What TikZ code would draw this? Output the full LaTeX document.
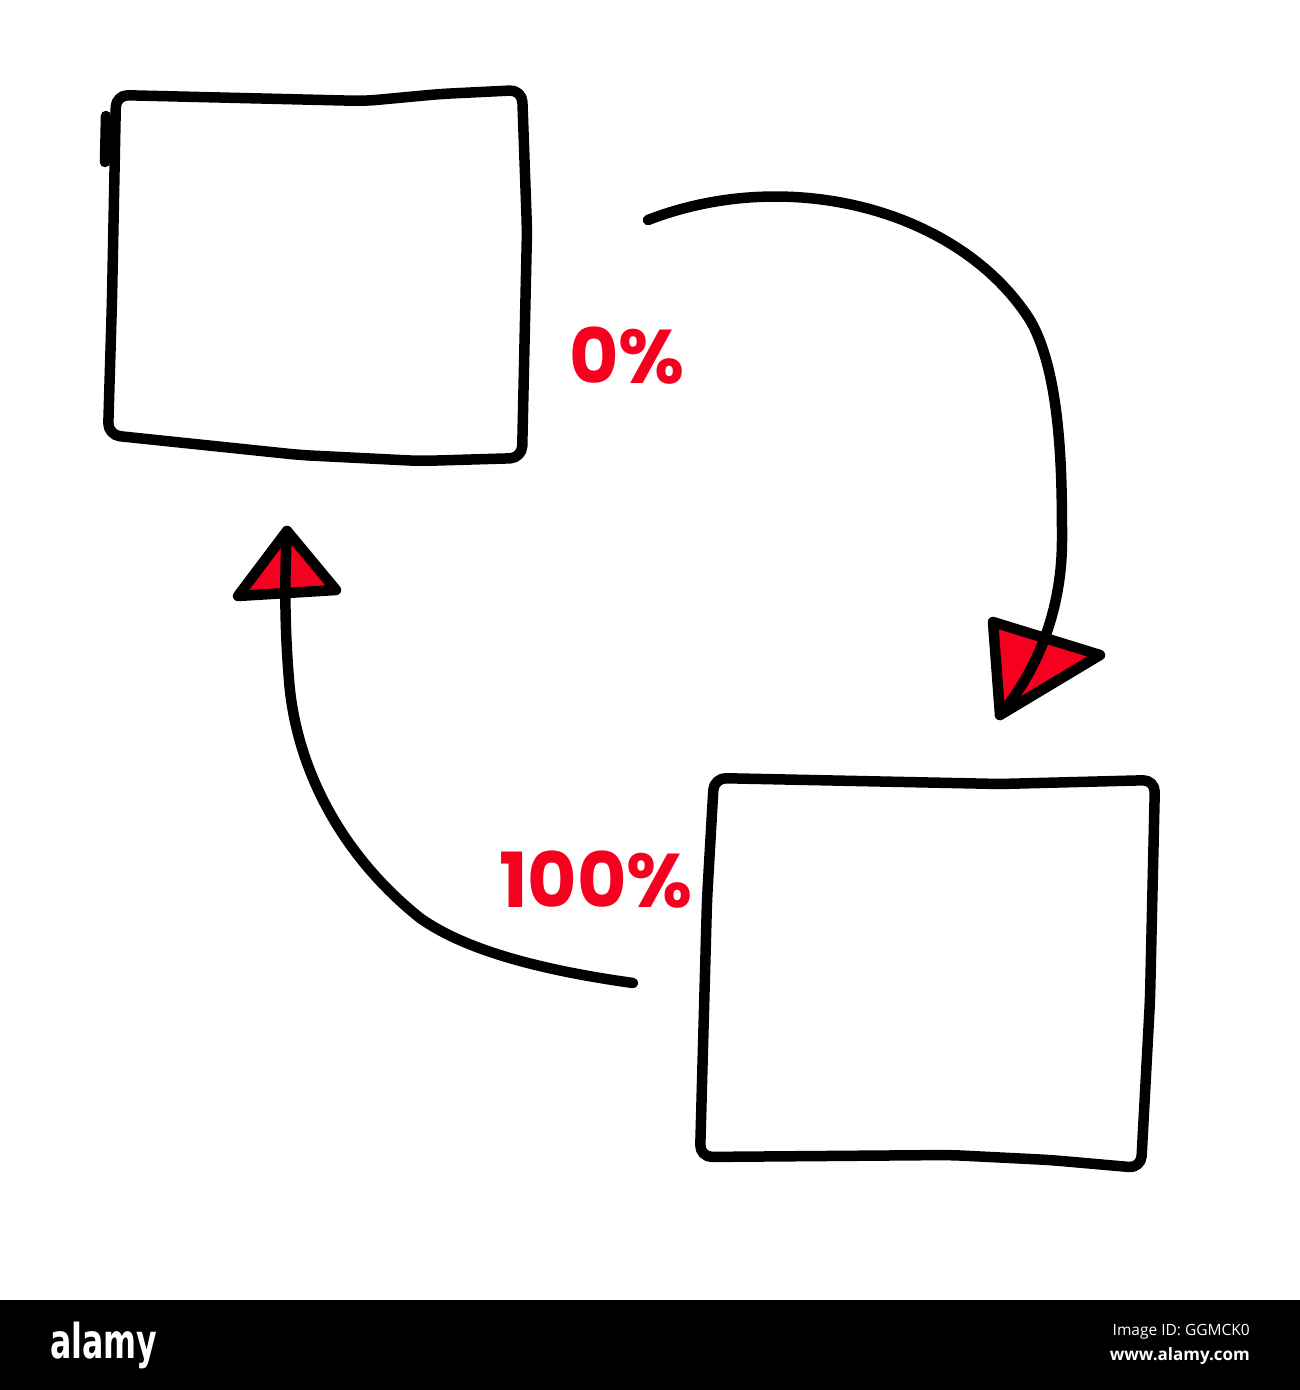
\documentclass[tikz,border=0pt]{standalone}
\usepackage{fontspec}
\setmainfont{Poppins}
\newfontfamily\logofont{DejaVu Sans}
\newfontfamily\infofont{Open Sans}
\definecolor{penred}{RGB}{245,0,30}
\begin{document}
\begin{tikzpicture}[x=1pt,y=-1pt,
  ink/.style={draw=black,line width=10.5pt,line cap=round,line join=round},
  headtri/.style={ink,fill=penred},
  lbl/.style={text=penred,font=\fontsize{76}{76}\selectfont\bfseries,inner sep=0pt},
  info/.style={text=white,inner sep=0pt,anchor=east}]
\useasboundingbox (0,0) rectangle (1300,1390);
\fill[white] (0,0) rectangle (1300,1300);
% box 1
\draw[ink,rounded corners=12pt] (116,95) -- (365,101) -- (440,94) -- (522,90) -- (527,230) -- (522,458) -- (420,461) -- (300,455) -- (108,435) -- (112,300) -- cycle;
\draw[ink] (106,116) -- (105,162);
% box 2
\draw[ink,rounded corners=12pt] (714,778) -- (1000,784) -- (1155,780) -- (1150,1000) -- (1141,1168) -- (1050,1160) -- (950,1155) -- (700,1157) -- (707,900) -- cycle;
% named ends of connectors
\coordinate (s1) at (648,220);
\coordinate (e1) at (1000,715);
\coordinate (s2) at (633,983);
\coordinate (e2) at (287,531);
% arrow 1 head and line
\draw[headtri] (993,622) -- (1100,655) -- (e1) -- cycle;
\draw[ink] (s1) .. controls (790,165) and (960,210) .. (1030,320)
  .. controls (1062,375) and (1062,480) .. (1062,540)
  .. controls (1062,620) and (1030,680) .. (e1);
% arrow 2 head and line
\draw[headtri] (e2) -- (336,590) -- (238,596) -- cycle;
\draw[ink] (s2) .. controls (540,970) and (465,950) .. (420,918)
  .. controls (335,850) and (295,760) .. (289,680)
  .. controls (284,620) and (285,570) .. (e2);
% labels
\node[lbl] (p0) at (627,356) {0\%};
\node[lbl] (p100) at (596,880) {100\%};
% bottom bar
\fill[black] (0,1300) rectangle (1300,1390);
\node[text=white,inner sep=0pt,anchor=west] (logo) at (50,1345) {\scalebox{0.66}[1]{\logofont\fontsize{48}{48}\selectfont\bfseries alamy}};
\node[info] (iid) at (1250,1332) {\infofont\fontsize{15.5}{15.5}\selectfont Image ID: GGMCK0};
\node[info] (web) at (1250,1356) {\infofont\fontsize{17}{17}\selectfont\bfseries www.alamy.com};
\end{tikzpicture}
\end{document}
